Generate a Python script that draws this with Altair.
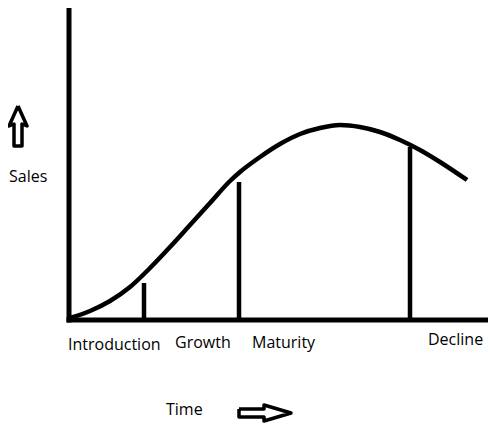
import altair as alt
import pandas as pd

# Product life-cycle curve (time offset from axis origin, sales height above baseline)
curve_time = [1, 21, 41, 61, 81, 101, 121, 141, 161, 171, 191, 211, 231, 251, 271, 291, 311, 331, 351, 371, 398]
curve_sales = [2, 9, 19, 33, 52, 73, 95, 117, 139, 148, 163, 176, 186, 192, 195, 193, 188, 180, 170, 158, 140]

# Stage separators (time, top sales, bottom sales)
stage_time = [75, 170, 341]
stage_top = [37, 138, 173]
stage_bottom = [0, -2, 0]

# Stage labels
stage_labels = ["Introduction", "Growth", "Maturity", "Decline"]
label_time = [-1, 106, 183, 359]
label_sales = [-25, -23, -23, -20]

# Axis frame
axis_x = [0, -2.5]
axis_x2 = [0, 419]
axis_y = [312, 0]
axis_y2 = [-2.5, 0]

# Axis captions
caption_text = ["Sales", "Time"]
caption_time = [-60, 97]
caption_sales = [143, -90]

# Outline arrows (closed polygons)
up_arrow_t = [-51, -42, -47, -47, -55, -55, -60, -51]
up_arrow_s = [214, 194, 196, 174, 174, 196, 194, 214]
right_arrow_t = [170, 195, 195, 222, 195, 195, 170, 170]
right_arrow_s = [-89, -89, -85, -93, -101, -97, -97, -89]

X = alt.Scale(domain=[-61, 420], nice=False, zero=False)
Y = alt.Scale(domain=[-105, 312], nice=False, zero=False)

curve = pd.DataFrame({"t": curve_time, "s": curve_sales, "i": range(len(curve_time))})
stages = pd.DataFrame({"t": stage_time, "top": stage_top, "bot": stage_bottom})
frame = pd.DataFrame({"x": axis_x, "x2": axis_x2, "y": axis_y, "y2": axis_y2})
labels = pd.DataFrame({"t": label_time, "s": label_sales, "txt": stage_labels})
captions = pd.DataFrame({"t": caption_time, "s": caption_sales, "txt": caption_text})
arrows = pd.DataFrame({
    "t": up_arrow_t + right_arrow_t,
    "s": up_arrow_s + right_arrow_s,
    "a": ["up"] * len(up_arrow_t) + ["right"] * len(right_arrow_t),
    "i": list(range(len(up_arrow_t))) + list(range(len(right_arrow_t))),
})

frame_layer = alt.Chart(frame).mark_rule(color="black", strokeWidth=5, strokeCap="butt").encode(
    x=alt.X("x:Q", scale=X, axis=None),
    x2="x2:Q",
    y=alt.Y("y:Q", scale=Y, axis=None),
    y2="y2:Q",
)

curve_layer = alt.Chart(curve).mark_line(color="black", strokeWidth=4.5, interpolate="monotone").encode(
    x=alt.X("t:Q", scale=X, axis=None),
    y=alt.Y("s:Q", scale=Y, axis=None),
    order="i:Q",
)

stage_layer = alt.Chart(stages).mark_rule(color="black", strokeWidth=4.5).encode(
    x=alt.X("t:Q", scale=X, axis=None),
    y=alt.Y("top:Q", scale=Y, axis=None),
    y2="bot:Q",
)

arrow_layer = alt.Chart(arrows).mark_line(color="black", strokeWidth=3.5, strokeJoin="round").encode(
    x=alt.X("t:Q", scale=X, axis=None),
    y=alt.Y("s:Q", scale=Y, axis=None),
    detail="a:N",
    order="i:Q",
)

label_layer = alt.Chart(labels).mark_text(
    align="left", baseline="middle", font="Open Sans", fontSize=16, color="black"
).encode(
    x=alt.X("t:Q", scale=X, axis=None),
    y=alt.Y("s:Q", scale=Y, axis=None),
    text="txt:N",
)

caption_layer = alt.Chart(captions).mark_text(
    align="left", baseline="middle", font="Open Sans", fontSize=16, color="black"
).encode(
    x=alt.X("t:Q", scale=X, axis=None),
    y=alt.Y("s:Q", scale=Y, axis=None),
    text="txt:N",
)

chart = alt.layer(
    frame_layer, curve_layer, stage_layer, arrow_layer, label_layer, caption_layer
).properties(
    width=481,
    height=417,
    padding=0,
    autosize=alt.AutoSizeParams(type="none"),
    background="white",
).configure_view(stroke=None)

chart.save("out.html", embed_options={"renderer": "svg", "actions": False})
